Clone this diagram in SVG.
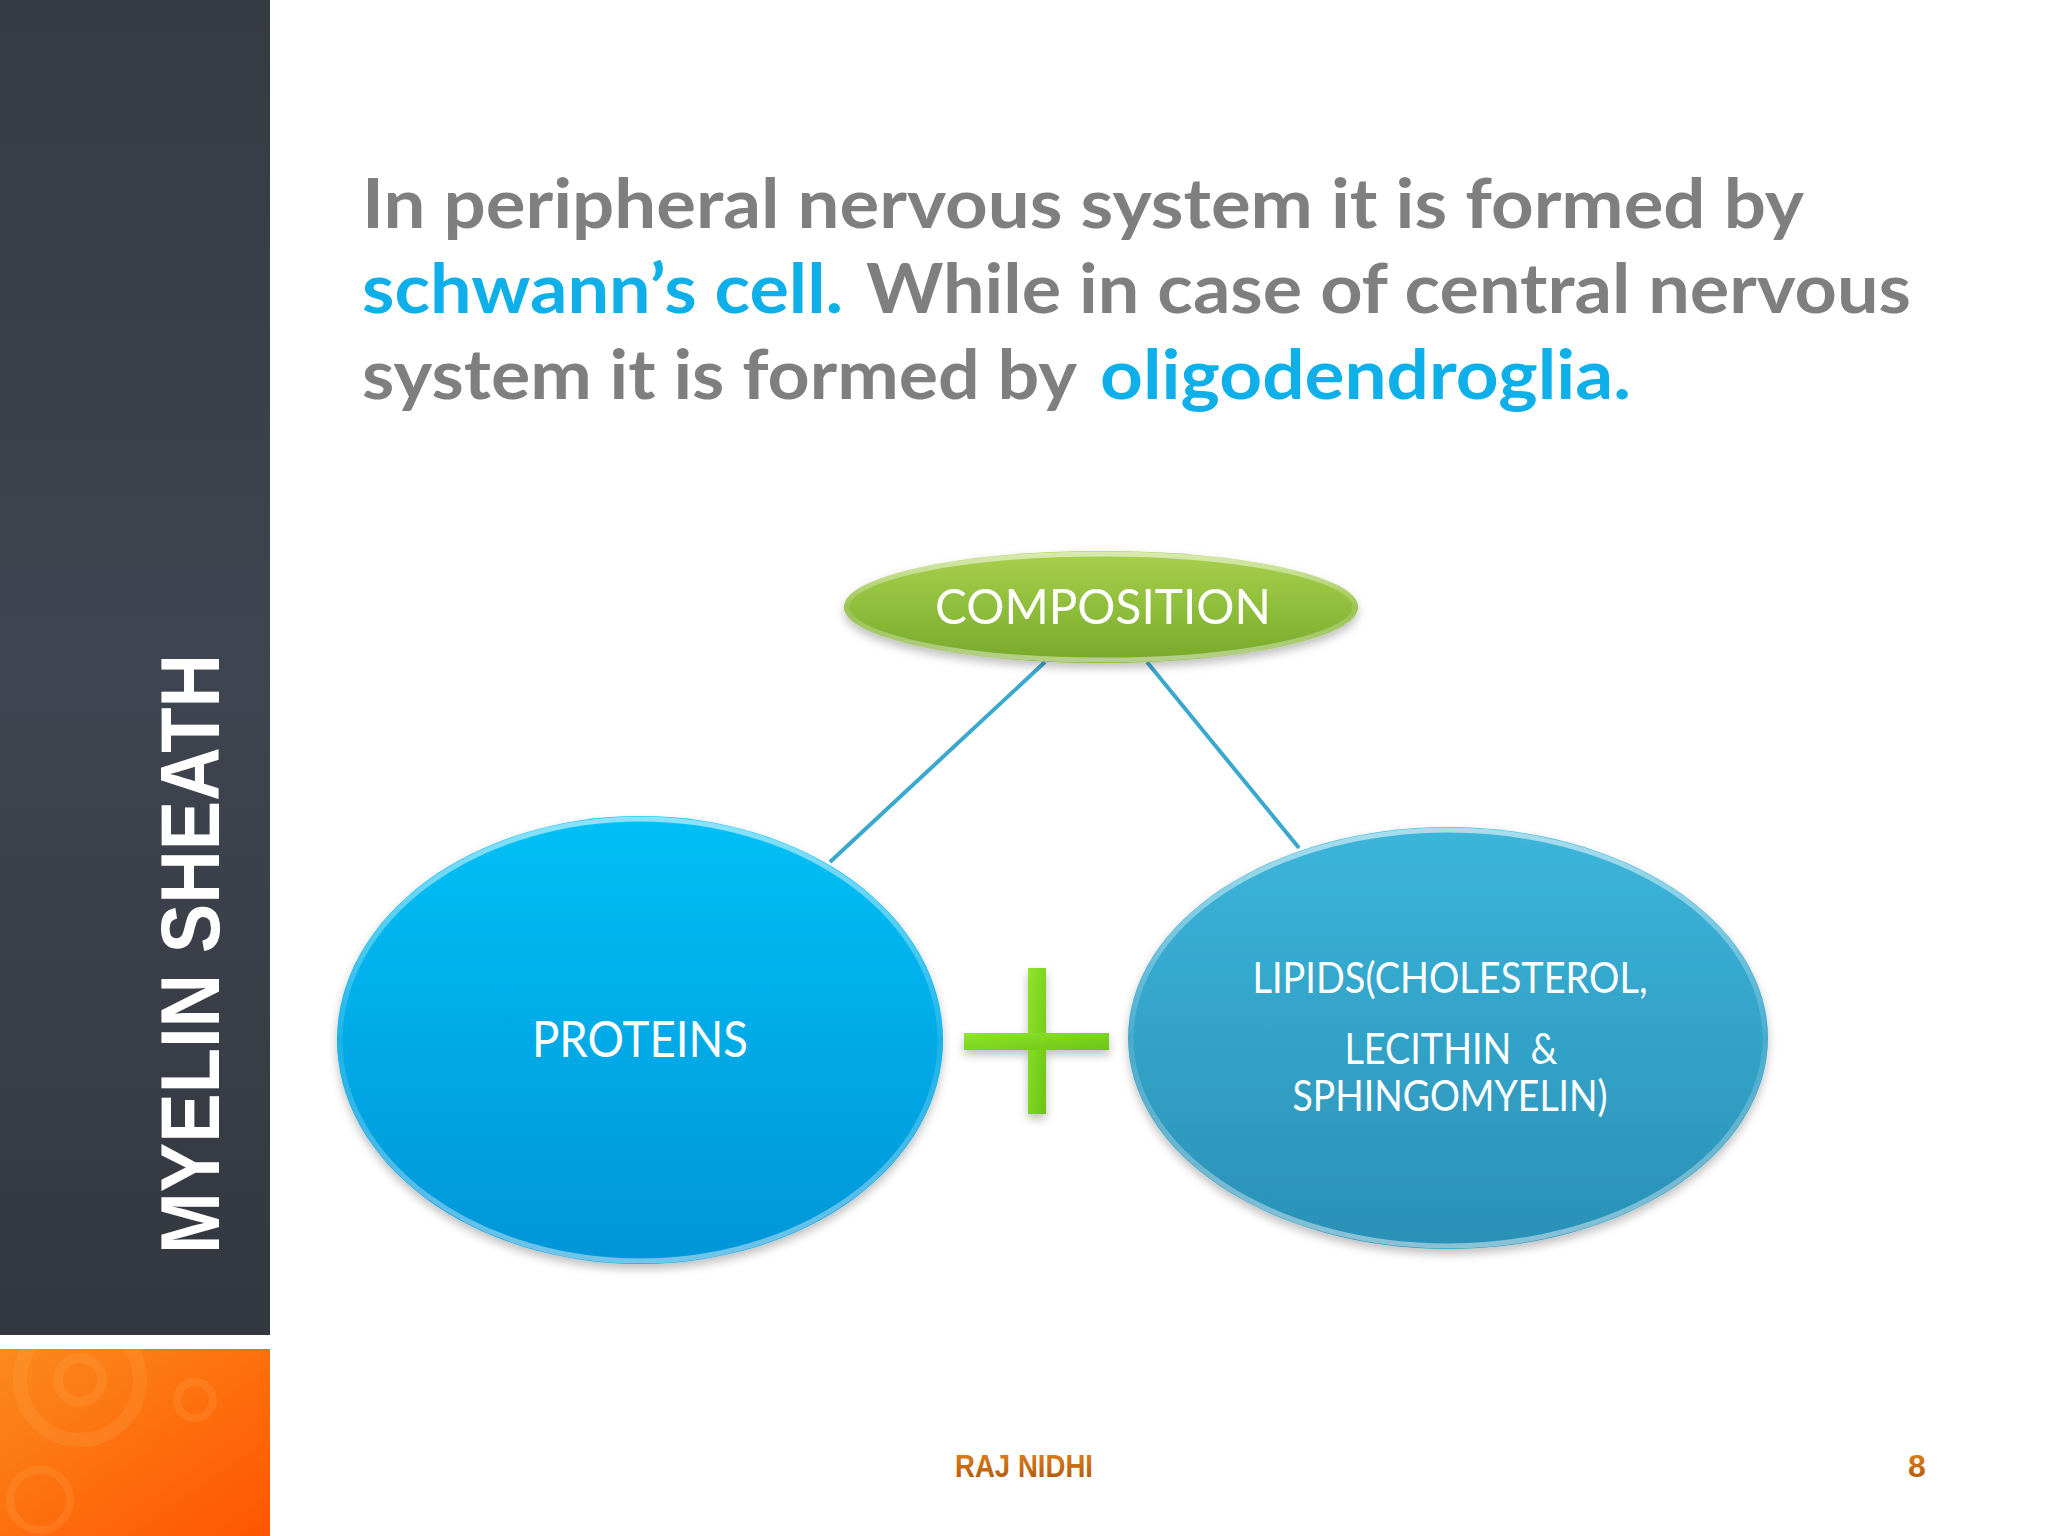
<svg xmlns="http://www.w3.org/2000/svg" width="2048" height="1536" viewBox="0 0 2048 1536">
  <defs>
    <linearGradient id="side" x1="0" y1="0" x2="0" y2="1">
      <stop offset="0" stop-color="#353a43"/>
      <stop offset="0.5" stop-color="#3f4550"/>
      <stop offset="1" stop-color="#33373f"/>
    </linearGradient>
    <linearGradient id="orange" x1="0" y1="0" x2="1" y2="1">
      <stop offset="0" stop-color="#fb8a1c"/>
      <stop offset="1" stop-color="#ff5500"/>
    </linearGradient>
    <linearGradient id="gProt" x1="0" y1="0" x2="0" y2="1">
      <stop offset="0" stop-color="#06c0f6"/>
      <stop offset="1" stop-color="#0095d8"/>
    </linearGradient>
    <linearGradient id="gLip" x1="0" y1="0" x2="0" y2="1">
      <stop offset="0" stop-color="#3cb5da"/>
      <stop offset="1" stop-color="#2a90b6"/>
    </linearGradient>
    <linearGradient id="gComp" x1="0" y1="0" x2="0" y2="1">
      <stop offset="0" stop-color="#a8d04e"/>
      <stop offset="0.5" stop-color="#8fbe3c"/>
      <stop offset="1" stop-color="#78a82a"/>
    </linearGradient>
    <linearGradient id="rim" x1="0" y1="0" x2="0" y2="1">
      <stop offset="0" stop-color="#ffffff" stop-opacity="0.55"/>
      <stop offset="0.5" stop-color="#ffffff" stop-opacity="0.1"/>
      <stop offset="1" stop-color="#ffffff" stop-opacity="0.45"/>
    </linearGradient>
    <linearGradient id="plusG" x1="0" y1="0" x2="1" y2="1">
      <stop offset="0" stop-color="#8ee52a"/>
      <stop offset="1" stop-color="#6cc416"/>
    </linearGradient>
    <linearGradient id="footer" x1="0" y1="0" x2="0" y2="1">
      <stop offset="0" stop-color="#e8841a"/>
      <stop offset="1" stop-color="#a9530a"/>
    </linearGradient>
    <clipPath id="orangeClip">
      <rect x="0" y="1349" width="270" height="187"/>
    </clipPath>
    <filter id="shadow" x="-10%" y="-10%" width="120%" height="130%">
      <feDropShadow dx="0" dy="5" stdDeviation="5" flood-color="#000000" flood-opacity="0.25"/>
    </filter>
    <style>
      .title { font-family: Lato, "Open Sans", "Liberation Sans", sans-serif; font-weight: 700; font-size: 68px; }
      .gray { fill: #7f7f7f; }
      .blue { fill: #0fb0ea; }
      .lbl { font-family: Lato, "Open Sans", "Liberation Sans", sans-serif; fill: #ffffff; text-anchor: middle; }
      .conn { stroke: #3da8cf; stroke-width: 4; fill: none; }
      .rimline { fill: none; stroke: url(#rim); stroke-width: 5; }
    </style>
  </defs>

  <rect x="0" y="0" width="2048" height="1536" fill="#ffffff"/>

  <!-- left sidebar -->
  <rect x="0" y="0" width="270" height="1335" fill="url(#side)"/>
  <rect x="0" y="1349" width="270" height="187" fill="url(#orange)"/>
  <g fill="none" stroke="#ffb060" stroke-opacity="0.18" clip-path="url(#orangeClip)">
    <circle cx="80" cy="1380" r="60" stroke-width="14"/>
    <circle cx="80" cy="1380" r="22" stroke-width="10"/>
    <circle cx="195" cy="1400" r="18" stroke-width="8"/>
    <circle cx="40" cy="1500" r="30" stroke-width="8"/>
  </g>
  <text transform="translate(219,1254) rotate(-90)" font-family="'Liberation Sans', Arial, sans-serif" font-weight="700" font-size="84" fill="#ffffff" textLength="600" lengthAdjust="spacingAndGlyphs">MYELIN SHEATH</text>

  <!-- title -->
  <text class="title gray" x="362" y="228" textLength="1442" lengthAdjust="spacingAndGlyphs">In peripheral nervous system it is formed by</text>
  <text class="title blue" x="362" y="313" textLength="481" lengthAdjust="spacingAndGlyphs">schwann’s cell.</text>
  <text class="title gray" x="866" y="313" textLength="1045" lengthAdjust="spacingAndGlyphs">While in case of central nervous</text>
  <text class="title gray" x="362" y="399" textLength="715" lengthAdjust="spacingAndGlyphs">system it is formed by</text>
  <text class="title blue" x="1100" y="399" textLength="531" lengthAdjust="spacingAndGlyphs">oligodendroglia.</text>

  <!-- connectors -->
  <g id="connectors">
    <line class="conn" x1="1045" y1="662" x2="830" y2="862"/>
    <line class="conn" x1="1147" y1="662" x2="1299" y2="848"/>
  </g>

  <!-- nodes -->
  <g id="composition">
    <ellipse cx="1101" cy="607" rx="257" ry="56" fill="url(#gComp)" filter="url(#shadow)"/>
    <ellipse cx="1101" cy="607" rx="254" ry="53" class="rimline" stroke-width="3"/>
    <text class="lbl" x="1103" y="624" font-size="49" textLength="336" lengthAdjust="spacingAndGlyphs">COMPOSITION</text>
  </g>

  <g id="proteins">
    <ellipse cx="640" cy="1040" rx="303" ry="224" fill="url(#gProt)" filter="url(#shadow)"/>
    <ellipse cx="640" cy="1040" rx="300" ry="221" class="rimline"/>
    <text class="lbl" x="640" y="1057" font-size="50" textLength="216" lengthAdjust="spacingAndGlyphs">PROTEINS</text>
  </g>

  <g id="plus" filter="url(#shadow)">
    <rect x="1028" y="968" width="18" height="146" fill="url(#plusG)"/>
    <rect x="964" y="1033" width="145" height="17" fill="url(#plusG)"/>
  </g>

  <g id="lipids">
    <ellipse cx="1448" cy="1038" rx="320" ry="211" fill="url(#gLip)" filter="url(#shadow)"/>
    <ellipse cx="1448" cy="1038" rx="317" ry="208" class="rimline"/>
    <text class="lbl" x="1450" y="993" font-size="43" textLength="395" lengthAdjust="spacingAndGlyphs">LIPIDS(CHOLESTEROL,</text>
    <text class="lbl" x="1451" y="1064" font-size="43" textLength="213" lengthAdjust="spacingAndGlyphs" xml:space="preserve">LECITHIN  &amp;</text>
    <text class="lbl" x="1450" y="1111" font-size="43" textLength="315" lengthAdjust="spacingAndGlyphs">SPHINGOMYELIN)</text>
  </g>

  <!-- footer -->
  <text x="955" y="1477" font-family="'Liberation Sans', Arial, sans-serif" font-weight="700" font-size="32" fill="url(#footer)" textLength="138" lengthAdjust="spacingAndGlyphs">RAJ NIDHI</text>
  <text x="1917" y="1477" font-family="'Liberation Sans', Arial, sans-serif" font-weight="700" font-size="32" fill="url(#footer)" text-anchor="middle">8</text>
</svg>
